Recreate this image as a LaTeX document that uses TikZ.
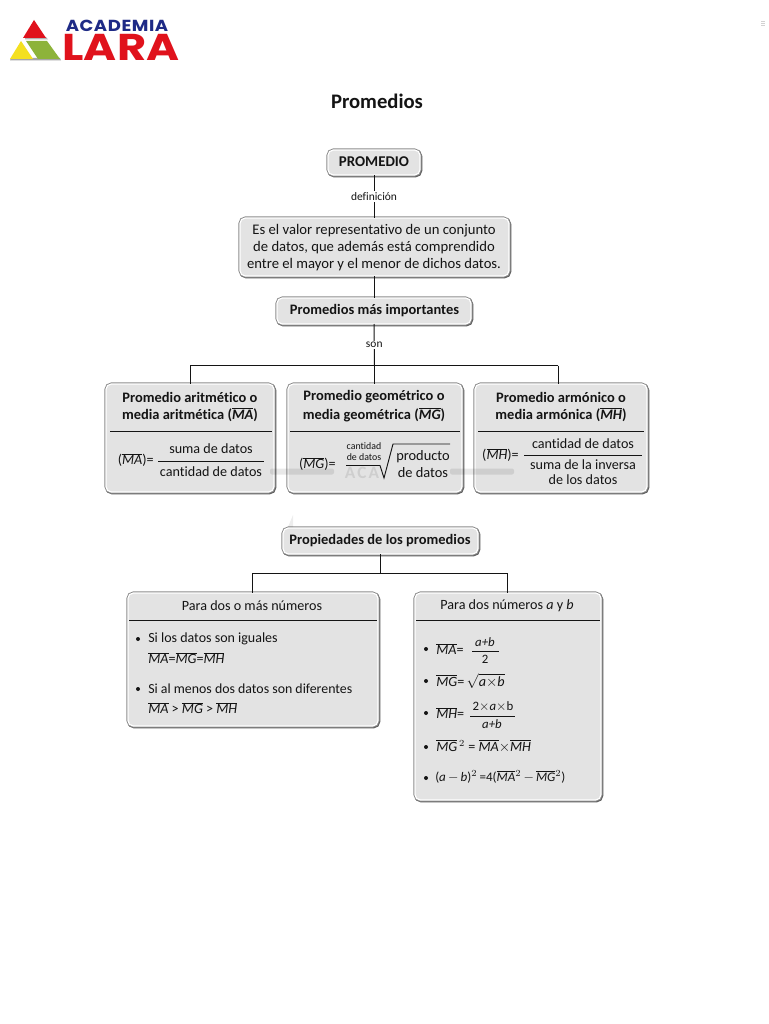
\documentclass[tikz,border=0pt]{standalone}
\usepackage{fontspec}
\usepackage{graphicx}
\setmainfont[Ligatures=NoCommon]{Carlito}
\newfontfamily\logofont{Poppins}
\usetikzlibrary{fit}
\definecolor{boxfill}{HTML}{E3E3E3}
\definecolor{boxedge}{HTML}{8C8C8C}
\definecolor{boxshade}{HTML}{606060}
\definecolor{ink}{HTML}{141414}
\definecolor{logored}{HTML}{E0121C}
\definecolor{logoblue}{HTML}{1E2A86}
\definecolor{logogreen}{HTML}{8DB33A}
\definecolor{logoyellow}{HTML}{F4E020}
\newcommand{\ov}[1]{$\overline{\mbox{\textit{#1}}}$}
\newcommand{\sz}[1]{\fontsize{#1}{#1}\selectfont}
\tikzset{
  x=0.75pt,y=-0.75pt,
  box/.style={rounded corners=4pt,inner sep=0pt,outer sep=0pt,fill=boxfill,draw=white,line width=0.9pt,
    preaction={draw=boxshade,line width=2.2pt,transform canvas={xshift=0.6pt,yshift=-0.7pt}},
    preaction={draw=boxedge,line width=2.3pt}},
  link/.style={draw=ink,line width=0.75pt,line cap=square},
  rulel/.style={draw=ink,line width=0.7pt},
  head/.style={font=\sz{10.85}\bfseries,text=ink,inner sep=0pt,align=center},
  body/.style={font=\sz{10.6},text=ink,inner sep=0pt,align=center},
  lefty/.style={font=\sz{10.6},text=ink,inner sep=0pt,anchor=west},
  tag/.style={font=\sz{8.6},text=ink,fill=white,inner sep=1pt},
  dotb/.style={circle,fill=ink,inner sep=0pt,minimum size=3pt},
  wmark/.style={fill=black,fill opacity=0.09,rounded corners=1.5pt},
}
\begin{document}
\begin{tikzpicture}
\useasboundingbox (0,0) rectangle (768,1024);
\fill[white] (0,0) rectangle (768,1024);
% logo
\fill[gray!60] (25,39.5) -- (48,39.5) -- (46,37) -- (25,37) -- cycle;
\fill[logored] (34,20) -- (46,38) -- (23,38) -- cycle;
\fill[gray!70] (10,60.5) -- (61,60.5) -- (60,58) -- (11,58) -- cycle;
\fill[logoyellow] (21,41) -- (33,59) -- (10,59) -- cycle;
\fill[logogreen] (26,41) -- (47,41) -- (60,59) -- (38,59) -- cycle;
\node[inner sep=0pt,text=logoblue,font=\logofont\bfseries\sz{12}] (logoa) at (117,25.5) {\scalebox{1.13}[1]{\addfontfeature{LetterSpace=3}ACADEMIA}};
\node[inner sep=0pt,text=logored,font=\logofont\bfseries\sz{28}] (logob) at (121,47.5) {\scalebox{1.2}[1]{\addfontfeature{LetterSpace=1}LARA}};
\node[inner sep=0pt,text=ink,font=\sz{15.5}\bfseries] (title) at (377,101) {Promedios};
% top mark
\draw[gray!35,line width=0.4pt] (761,21) -- (765,21) (761,23) -- (765,23) (761,25) -- (765,25);
% boxes
\node[box,fit={(328,150)(420,175)}] (pro) {};
\node[box,fit={(240,218)(509,276)}] (def) {};
\node[box,fit={(277,298)(471,324)}] (imp) {};
\node[box,fit={(106,384)(274,492)}] (ari) {};
\node[box,fit={(288,384)(462,492)}] (geo) {};
\node[box,fit={(475,384)(647,492)}] (arm) {};
\node[box,fit={(283,528)(478,554)}] (prop) {};
\node[box,fit={(128,593)(378,726)}] (dos) {};
\node[box,fit={(415,593)(601,800)}] (ab) {};
% watermark
\fill[wmark] (270,468.5) rectangle (334,474.5);
\fill[wmark] (450,468.5) rectangle (514,474.5);
\node[inner sep=0pt,text=black,text opacity=0.09,font=\sz{13}\bfseries] (wm) at (362,473) {\addfontfeature{LetterSpace=12}ACA};
\fill[black,fill opacity=0.07] (293,515) -- (293,527) -- (288,527) -- cycle;
% connectors
\coordinate (b1) at (190,365.5);
\coordinate (b2) at (374.5,365.5);
\coordinate (b3) at (558,365.5);
\coordinate (c0) at (380,573);
\coordinate (c1) at (252,573);
\coordinate (c2) at (507,573);
\draw[link] (pro.south) -- node[tag] (tdef) {definición} (pro.south |- def.north);
\draw[link] (pro.south |- def.south) -- (pro.south |- imp.north);
\draw[link] (pro.south |- imp.south) -- node[tag] (tson) {son} (b2);
\draw[link] (b1) -- (b3);
\draw[link] (b1) -- (b1 |- ari.north);
\draw[link] (b2) -- (b2 |- geo.north);
\draw[link] (b3) -- (b3 |- arm.north);
\draw[link] (c0 |- prop.south) -- (c0);
\draw[link] (c1) -- (c2);
\draw[link] (c1) -- (c1 |- dos.north);
\draw[link] (c2) -- (c2 |- ab.north);
% simple texts
\node[head,font=\sz{11.2}\bfseries] (tpro) at (374,162) {PROMEDIO};
\node[body,font=\sz{11.0},align=center] (tdefin) at (374,247.5) {Es el valor representativo de un conjunto\\[2pt]de datos, que además está comprendido\\[2pt]entre el mayor y el menor de dichos datos.};
\node[head] (timp) at (374.5,311) {Promedios más importantes};
% aritmetico
\node[head] (h1a) at (190,397) {Promedio aritmético o};
\node[head] (h1b) at (190,415) {media aritmética (\ov{MA})};
\draw[rulel] (110,431) -- (272,431);
\node[body,anchor=east] (m1) at (154,460) {(\ov{MA})=};
\draw[rulel] (158,461) -- (264,461);
\node[body] (f1n) at (211,449) {suma de datos};
\node[body] (f1d) at (211,472) {cantidad de datos};
% geometrico
\node[head] (h2a) at (374,397) {Promedio geométrico o};
\node[head] (h2b) at (374,415) {media geométrica (\ov{MG})};
\draw[rulel] (290,431) -- (460,431);
\node[body,anchor=east] (m2) at (336,464) {(\ov{MG})=};
\node[body,font=\sz{7.4}] (r2a) at (364,446) {cantidad};
\node[body,font=\sz{7.4}] (r2b) at (364,457) {de datos};
\draw[rulel,line join=miter] (346,465.5) -- (380,465.5) -- (384,478) -- (393,444) -- (450,444);
\node[body,font=\sz{10.8}] (r2c) at (423,457) {producto};
\node[body,font=\sz{10.8}] (r2d) at (423,472.5) {de datos};
% armonico
\node[head] (h3a) at (561,397) {Promedio armónico o};
\node[head] (h3b) at (561,415) {media armónica (\ov{MH})};
\draw[rulel] (478,431) -- (644,431);
\node[body,anchor=east] (m3) at (519,455) {(\ov{MH})=};
\draw[rulel] (524,455) -- (642,455);
\node[body] (f3n) at (583,444) {cantidad de datos};
\node[body] (f3d) at (583,465) {suma de la inversa};
\node[body] (f3e) at (583,480) {de los datos};
% propiedades
\node[head] (tprop) at (380,541) {Propiedades de los promedios};
\node[body] (tdos) at (252,605.5) {Para dos o más números};
\draw[rulel] (129,620) -- (377,620);
\node[dotb] (d1) at (138,639) {};
\node[lefty,font=\sz{10.5}] (l1) at (148,639) {Si los datos son iguales};
\node[lefty] (l2) at (148,658) {\ov{MA}=\ov{MG}=\ov{MH}};
\node[dotb] (d2) at (138,689) {};
\node[lefty,font=\sz{10.4}] (l3) at (148,689) {Si al menos dos datos son diferentes};
\node[lefty] (l4) at (148,708) {\ov{MA} > \ov{MG} > \ov{MH}};
% a y b
\node[body] (tab) at (507,605.5) {Para dos números \textit{a} y \textit{b}};
\draw[rulel] (416,620) -- (600,620);
\node[dotb] (e1) at (426,649) {};
\node[lefty] (a1) at (436,649) {\ov{MA}=};
\node[body,font=\sz{9.6}\itshape] (a1n) at (485,642) {a+b};
\draw[rulel] (472,651) -- (499,651);
\node[body,font=\sz{9.6}] (a1d) at (485,659) {2};
\node[dotb] (e2) at (426,681) {};
\node[lefty] (a2) at (436,681) {\ov{MG}=\,$\sqrt{\mbox{\textit{a}$\times$\textit{b}}}$};
\node[dotb] (e3) at (426,713) {};
\node[lefty] (a3) at (436,713) {\ov{MH}=};
\node[body,font=\sz{9.6}] (a3n) at (493,707) {2$\times$\textit{a}$\times$b};
\draw[rulel] (470,716) -- (515,716);
\node[body,font=\sz{9.6}\itshape] (a3d) at (492,724) {a+b};
\node[dotb] (e4) at (426,747) {};
\node[lefty] (a4) at (436,746) {\ov{MG}$^{\,2}$ = \ov{MA}$\times$\ov{MH}};
\node[dotb] (e5) at (426,778) {};
\node[lefty,font=\sz{9.8}] (a5) at (435,777) {(\textit{a}\,$-$\,\textit{b})$^2$\,=4(\ov{MA}$^2$\,$-$\,\ov{MG}$^2$)};
\end{tikzpicture}
\end{document}
